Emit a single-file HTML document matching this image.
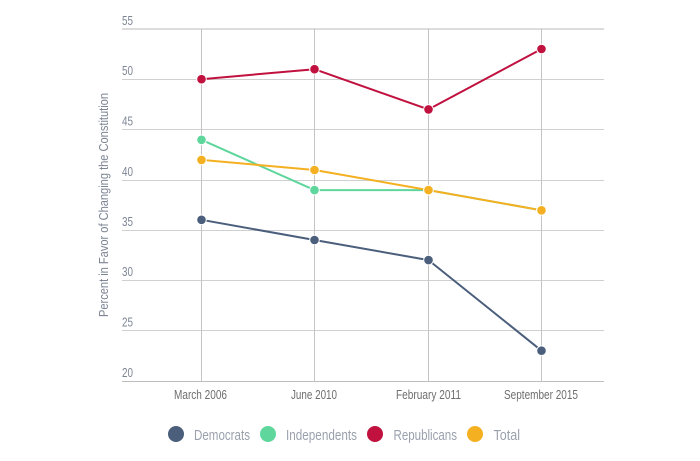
<!DOCTYPE html>
<html><head><meta charset="utf-8"><style>
html,body{margin:0;padding:0;background:#fff;}
svg{display:block;}
text{font-family:"Liberation Sans",sans-serif;}
</style></head><body>
<svg width="700" height="461" viewBox="0 0 700 461" xmlns="http://www.w3.org/2000/svg">
<g stroke="#d0d0d0" stroke-width="1">
<line x1="122" y1="79.5" x2="604" y2="79.5"/>
<line x1="122" y1="129.5" x2="604" y2="129.5"/>
<line x1="122" y1="180.5" x2="604" y2="180.5"/>
<line x1="122" y1="230.5" x2="604" y2="230.5"/>
<line x1="122" y1="280.5" x2="604" y2="280.5"/>
<line x1="122" y1="330.5" x2="604" y2="330.5"/>
</g>
<line x1="122" y1="29" x2="604" y2="29" stroke="#dcdcdc" stroke-width="2"/>
<g stroke="#c4c4c4" stroke-width="1">
<line x1="201.5" y1="29" x2="201.5" y2="381"/>
<line x1="314.5" y1="29" x2="314.5" y2="381"/>
<line x1="428.5" y1="29" x2="428.5" y2="381"/>
<line x1="541.5" y1="29" x2="541.5" y2="381"/>
</g>
<line x1="122" y1="381.5" x2="604" y2="381.5" stroke="#bdbdbd" stroke-width="1"/>
<g fill="#7d8594" font-size="12.5">
<text x="122" y="25" textLength="11" lengthAdjust="spacingAndGlyphs">55</text>
<text x="122" y="75" textLength="11" lengthAdjust="spacingAndGlyphs">50</text>
<text x="122" y="125.5" textLength="11" lengthAdjust="spacingAndGlyphs">45</text>
<text x="122" y="176" textLength="11" lengthAdjust="spacingAndGlyphs">40</text>
<text x="122" y="226" textLength="11" lengthAdjust="spacingAndGlyphs">35</text>
<text x="122" y="276" textLength="11" lengthAdjust="spacingAndGlyphs">30</text>
<text x="122" y="326.5" textLength="11" lengthAdjust="spacingAndGlyphs">25</text>
<text x="122" y="377" textLength="11" lengthAdjust="spacingAndGlyphs">20</text>
</g>
<g fill="#6e6e6e" font-size="12.5">
<text x="174" y="399" textLength="53" lengthAdjust="spacingAndGlyphs">March 2006</text>
<text x="291" y="399" textLength="46" lengthAdjust="spacingAndGlyphs">June 2010</text>
<text x="396" y="399" textLength="65" lengthAdjust="spacingAndGlyphs">February 2011</text>
<text x="504" y="399" textLength="74" lengthAdjust="spacingAndGlyphs">September 2015</text>
</g>
<text transform="translate(108,205) rotate(-90)" text-anchor="middle" fill="#7d8594" font-size="12.5" textLength="224" lengthAdjust="spacingAndGlyphs">Percent in Favor of Changing the Constitution</text>
<g fill="none" stroke-width="2" stroke-linejoin="round">
<polyline stroke="#4b5f7c" points="201.5,219.8 314.5,240 428.5,260.1 541.5,350.7"/>
<polyline stroke="#5fd69c" points="201.5,139.8 314.5,190.1 428.5,190.1 541.5,210.3"/>
<polyline stroke="#f4b020" points="201.5,159.9 314.5,170 428.5,190.1 541.5,210.3"/>
<polyline stroke="#c0113f" points="201.5,79.2 314.5,69.2 428.5,109.4 541.5,49"/>
</g>
<g stroke="#fff" stroke-width="1">
<g fill="#4b5f7c">
<circle cx="201.5" cy="219.8" r="4.8"/><circle cx="314.5" cy="240" r="4.8"/><circle cx="428.5" cy="260.1" r="4.8"/><circle cx="541.5" cy="350.7" r="4.8"/>
</g>
<g fill="#5fd69c">
<circle cx="201.5" cy="139.8" r="4.8"/><circle cx="314.5" cy="190.1" r="4.8"/><circle cx="428.5" cy="190.1" r="4.8"/><circle cx="541.5" cy="210.3" r="4.8"/>
</g>
<g fill="#f4b020">
<circle cx="201.5" cy="159.9" r="4.8"/><circle cx="314.5" cy="170" r="4.8"/><circle cx="428.5" cy="190.1" r="4.8"/><circle cx="541.5" cy="210.3" r="4.8"/>
</g>
<g fill="#c0113f">
<circle cx="201.5" cy="79.2" r="4.8"/><circle cx="314.5" cy="69.2" r="4.8"/><circle cx="428.5" cy="109.4" r="4.8"/><circle cx="541.5" cy="49" r="4.8"/>
</g>
</g>
<circle cx="176" cy="434" r="8" fill="#4b5f7c"/>
<circle cx="268" cy="434" r="8" fill="#5fd69c"/>
<circle cx="375" cy="434" r="8" fill="#c0113f"/>
<circle cx="475" cy="434" r="8" fill="#f4b020"/>
<g fill="#9aa1ad" font-size="15">
<text x="194" y="440" textLength="56" lengthAdjust="spacingAndGlyphs">Democrats</text>
<text x="286" y="440" textLength="71" lengthAdjust="spacingAndGlyphs">Independents</text>
<text x="393.5" y="440" textLength="63.5" lengthAdjust="spacingAndGlyphs">Republicans</text>
<text x="493.5" y="440" textLength="26.5" lengthAdjust="spacingAndGlyphs">Total</text>
</g>
</svg>
</body></html>
